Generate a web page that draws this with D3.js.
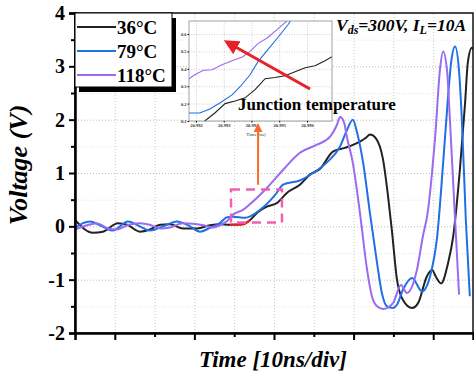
<!DOCTYPE html>
<html>
<head>
<meta charset="utf-8">
<script src="https://cdn.jsdelivr.net/npm/d3@7"></script>
<style>
body { margin: 0; background: #fff; }
text { font-family: "Liberation Serif", "Times New Roman", serif; }
</style>
</head>
<body>
<div id="chart"></div>
<script>
/* global d3 */

// time in ns (10 ns per division), voltage in V
const names = ['36°C', '79°C', '118°C']
const colors = ['#222222', '#1f6fe6', '#9a6af0']

const t36 = [0, 4.5, 7, 10.8, 13.1, 16.3, 18.8, 21.4, 23.9, 27.1, 30.7, 33.9, 36.4, 38.9, 42.2, 44, 46, 48.2, 50.8, 53.3, 56.5, 59, 61.6, 64.8, 67.8, 71.6, 73.1, 74.1, 75.6, 77.4, 78.6, 79.6, 80.9, 82.4, 84.7, 86.2, 88.4, 89.7, 90.7, 92, 93.7, 95, 96.7, 98, 98.7, 99.7, 100.7]
const v36 = [0.12, -0.12, -0.1, 0.06, 0.03, -0.1, -0.06, 0.03, 0.04, -0.04, -0.04, 0.02, 0.04, 0.03, 0.04, 0.12, 0.27, 0.37, 0.44, 0.63, 0.78, 0.97, 1.08, 1.4, 1.47, 1.59, 1.66, 1.72, 1.65, 1.25, 0.6, -0.06, -1.0, -1.38, -1.53, -1.44, -0.94, -0.82, -0.95, -1.07, -0.7, -0.2, 1.06, 2.3, 3.07, 3.35, 3.2]

const t79 = [0, 2, 3.8, 6.8, 9.5, 13.3, 16.3, 18.8, 23.1, 25.6, 28.9, 31.4, 33.9, 36.4, 38.2, 39.7, 42.7, 46.5, 50.3, 52.3, 56.5, 59.8, 63.3, 66.6, 68.3, 69.8, 70.9, 72.4, 74.1, 75.9, 77.1, 78.4, 79.9, 80.9, 82.4, 84.7, 87.2, 89.2, 91, 92.5, 93.7, 94.5, 95.5, 96.5, 97.2, 98.2, 99.2]
const v79 = [-0.03, 0.06, 0.09, 0, -0.08, 0.09, 0, -0.08, 0.03, 0.09, 0, -0.1, -0.03, 0.06, 0.17, 0.18, 0.16, 0.31, 0.59, 0.78, 0.86, 1.0, 1.2, 1.5, 1.8, 2.0, 1.75, 1.19, 0.25, -0.69, -1.25, -1.5, -1.53, -1.47, -1.19, -0.97, -1.22, -0.94, -0.19, 1.19, 2.4, 3.07, 3.37, 2.9, 2.0, 0.12, -1.31]

const t118 = [0, 3, 5.5, 8, 10.6, 13.1, 16.3, 18.8, 21.4, 23.9, 27.1, 29.6, 32.2, 34.7, 36.4, 38.2, 39.7, 42.2, 44, 48.2, 52.3, 56.5, 60.8, 64.1, 65.8, 66.6, 67.6, 68.3, 69.8, 71.6, 73.4, 74.6, 75.9, 77.4, 79.9, 81.9, 83.4, 85.9, 87.4, 88.7, 89.7, 90.5, 91.7, 92.5, 93.5, 94.2, 95.5, 96.5]
const v118 = [-0.06, 0.02, 0.06, -0.03, -0.06, 0.02, 0.06, 0.03, -0.04, -0.02, 0.06, 0.05, 0.02, -0.02, 0.02, 0.1, 0.22, 0.31, 0.42, 0.72, 1.06, 1.38, 1.53, 1.68, 1.9, 2.05, 1.95, 1.68, 1.19, 0.25, -0.82, -1.31, -1.5, -1.55, -1.44, -1.1, -1.25, -0.82, -0.19, 0.3, 1.0, 1.68, 2.94, 3.28, 2.9, 2.0, 0.12, -1.28]

// inset (zoom of the rising edge), time in us
const it36 = [20.99207, 20.99232, 20.99268, 20.99305, 20.99341, 20.99377, 20.99413, 20.99449, 20.99485, 20.99521, 20.99557, 20.99593, 20.99629, 20.99665, 20.9969]
const iv36 = [0.06, 0.1, 0.146, 0.2, 0.215, 0.233, 0.28, 0.343, 0.35, 0.36, 0.383, 0.406, 0.418, 0.447, 0.47]
const it79 = [20.99175, 20.99214, 20.9925, 20.99286, 20.9933, 20.99359, 20.99395, 20.99423, 20.99459, 20.99495, 20.99532, 20.99546]
const iv79 = [0.146, 0.146, 0.169, 0.204, 0.25, 0.297, 0.366, 0.44, 0.51, 0.58, 0.655, 0.69]
const it118 = [20.99175, 20.99196, 20.99225, 20.99258, 20.99294, 20.9933, 20.99369, 20.99395, 20.99423, 20.99459, 20.99495, 20.99524, 20.99539]
const iv118 = [0.343, 0.366, 0.39, 0.395, 0.424, 0.447, 0.47, 0.5, 0.545, 0.58, 0.63, 0.67, 0.69]

const yTicks = [-2, -1, 0, 1, 2, 3, 4]
const yMinor = [-1.5, -0.5, 0.5, 1.5, 2.5, 3.5]
const xMajor = [10, 30, 50, 70, 90]
const xMinor = [20, 40, 60, 80]
const insetXTicks = [20.992, 20.993, 20.994, 20.995, 20.996]
const insetYTicks = [0.1, 0.2, 0.3, 0.4, 0.5, 0.6]

// canvas
const width = 474,
  height = 375,
  pLeft = 75, pRight = 473, pTop = 13, pBottom = 333

const x = d3.scaleLinear().domain([0, 100]).range([pLeft, pRight])
const y = d3.scaleLinear().domain([-2, 4]).range([pBottom, pTop])

const ix = d3.scaleLinear().domain([20.99175, 20.9969]).range([189, 332])
const iy = d3.scaleLinear().domain([0.1, 0.675]).range([121, 21])

let svg = d3.select('#chart')
  .append('svg')
  .attr('width', width)
  .attr('height', height)

svg.append('clipPath').attr('id', 'plot')
  .append('rect').attr('x', pLeft).attr('y', pTop)
  .attr('width', pRight - pLeft).attr('height', pBottom - pTop)

// grid
svg.append('g')
  .attr('transform', `translate(0,${pBottom})`)
  .call(d3.axisBottom(x).tickValues(xMajor.concat(xMinor)).tickSize(-(pBottom - pTop)).tickFormat(''))
  .call(g => g.select('.domain').remove())
  .selectAll('line').attr('stroke', '#c8c8c8').attr('stroke-dasharray', '1,2')

svg.append('g')
  .attr('transform', `translate(${pLeft},0)`)
  .call(d3.axisLeft(y).tickValues(yTicks).tickSize(-(pRight - pLeft)).tickFormat(''))
  .call(g => g.select('.domain').remove())
  .selectAll('line').attr('stroke', '#bcbcbc').attr('stroke-dasharray', '1,2')

svg.append('g')
  .attr('transform', `translate(${pLeft},0)`)
  .call(d3.axisLeft(y).tickValues(yMinor).tickSize(-(pRight - pLeft)).tickFormat(''))
  .call(g => g.select('.domain').remove())
  .selectAll('line').attr('stroke', '#e2e2e2').attr('stroke-dasharray', '1,2')

// curves
const line = d3.line().x(d => x(d[0])).y(d => y(d[1])).curve(d3.curveMonotoneX)
const series = [d3.zip(t36, v36), d3.zip(t79, v79), d3.zip(t118, v118)]

svg.append('g').attr('clip-path', 'url(#plot)')
  .selectAll('path')
  .data(series)
  .enter()
  .append('path')
  .attr('d', line)
  .attr('fill', 'none')
  .attr('stroke', (d, i) => colors[i])
  .attr('stroke-width', 2)
  .attr('stroke-linejoin', 'round')

// red piece at the start of the edge
svg.append('path')
  .attr('d', line(series[0].filter(d => d[0] >= 38.9 && d[0] <= 44)))
  .attr('fill', 'none').attr('stroke', '#e8202a').attr('stroke-width', 2.2)

// frame
svg.append('rect')
  .attr('x', pLeft).attr('y', pTop)
  .attr('width', pRight - pLeft).attr('height', pBottom - pTop)
  .attr('fill', 'none').attr('stroke', '#111').attr('stroke-width', 1.5)

// axes
let yAxis = svg.append('g')
  .attr('transform', `translate(${pLeft},0)`)
  .call(d3.axisLeft(y).tickValues(yTicks).tickSize(6).tickPadding(4).tickFormat(d => String(d)))
yAxis.select('.domain').attr('stroke-width', 2.5)
yAxis.selectAll('line').attr('stroke-width', 2)
yAxis.selectAll('text')
  .attr('font-size', 20).attr('font-weight', 'bold').attr('fill', '#000')

svg.append('g')
  .attr('transform', `translate(${pLeft},0)`)
  .call(d3.axisLeft(y).tickValues(yMinor).tickSize(4).tickFormat(''))
  .call(g => g.select('.domain').remove())
  .selectAll('line').attr('stroke-width', 2)

let xAxis = svg.append('g')
  .attr('transform', `translate(0,${pBottom})`)
  .call(d3.axisBottom(x).tickValues(xMajor).tickSize(7).tickFormat(''))
xAxis.select('.domain').attr('stroke-width', 2.5)
xAxis.selectAll('line').attr('stroke-width', 2)

svg.append('g')
  .attr('transform', `translate(0,${pBottom})`)
  .call(d3.axisBottom(x).tickValues(xMinor).tickSize(4).tickFormat(''))
  .call(g => g.select('.domain').remove())
  .selectAll('line').attr('stroke-width', 2)

// axis titles
svg.append('text')
  .attr('x', 273).attr('y', 367)
  .attr('text-anchor', 'middle')
  .attr('font-size', 23).attr('font-weight', 'bold').attr('font-style', 'italic')
  .text('Time [10ns/div]')

svg.append('text')
  .attr('transform', 'translate(27,165) rotate(-90)')
  .attr('text-anchor', 'middle')
  .attr('font-size', 26).attr('font-weight', 'bold').attr('font-style', 'italic')
  .text('Voltage (V)')

// legend
svg.append('rect').attr('x', 79).attr('y', 18).attr('width', 97).attr('height', 74).attr('fill', '#000')
svg.append('rect').attr('x', 75).attr('y', 13).attr('width', 97).attr('height', 74)
  .attr('fill', '#fff').attr('stroke', '#000').attr('stroke-width', 1)

let legend = svg.selectAll('.leg')
  .data(names)
  .enter()
  .append('g')
  .attr('class', 'leg')
  .attr('transform', (d, i) => `translate(0,${27 + i * 24})`)

legend.append('line')
  .attr('x1', 77).attr('x2', 116)
  .attr('stroke', (d, i) => colors[i]).attr('stroke-width', 2)
legend.append('text')
  .attr('x', 117).attr('y', 6.5)
  .attr('font-size', 19).attr('font-weight', 'bold')
  .text(d => d)

// test condition
let cond = svg.append('text')
  .attr('x', 336).attr('y', 31)
  .attr('font-size', 17.5).attr('font-weight', 'bold').attr('font-style', 'italic')
cond.append('tspan').text('V')
cond.append('tspan').attr('font-size', 12).attr('dy', 3).text('ds')
cond.append('tspan').attr('dy', -3).text('=300V, I')
cond.append('tspan').attr('font-size', 12).attr('dy', 3).text('L')
cond.append('tspan').attr('dy', -3).text('=10A')

// inset
let inset = svg.append('g')
inset.append('rect').attr('x', 189).attr('y', 21).attr('width', 143).attr('height', 100)
  .attr('fill', '#fff')

inset.append('g')
  .attr('transform', 'translate(0,121)')
  .call(d3.axisBottom(ix).tickValues(insetXTicks).tickSize(-100).tickFormat(''))
  .call(g => g.select('.domain').remove())
  .selectAll('line').attr('stroke', '#d0d0d0').attr('stroke-dasharray', '1,1.5')
inset.append('g')
  .attr('transform', 'translate(189,0)')
  .call(d3.axisLeft(iy).tickValues(insetYTicks).tickSize(-143).tickFormat(''))
  .call(g => g.select('.domain').remove())
  .selectAll('line').attr('stroke', '#d0d0d0').attr('stroke-dasharray', '1,1.5')

svg.append('clipPath').attr('id', 'inset')
  .append('rect').attr('x', 189).attr('y', 21).attr('width', 143).attr('height', 100)

const iline = d3.line().x(d => ix(d[0])).y(d => iy(d[1]))
inset.append('g').attr('clip-path', 'url(#inset)')
  .selectAll('path')
  .data([d3.zip(it36, iv36), d3.zip(it79, iv79), d3.zip(it118, iv118)])
  .enter()
  .append('path')
  .attr('d', iline)
  .attr('fill', 'none')
  .attr('stroke', (d, i) => colors[i])
  .attr('stroke-width', 1.1)

inset.append('rect').attr('x', 189).attr('y', 21).attr('width', 143).attr('height', 100)
  .attr('fill', 'none').attr('stroke', '#8a8a8a').attr('stroke-width', 0.8)

let ixAxis = inset.append('g')
  .attr('transform', 'translate(0,121)')
  .call(d3.axisBottom(ix).tickValues(insetXTicks).tickSize(1.5).tickPadding(1).tickFormat(d3.format('.3f')))
ixAxis.select('.domain').remove()
ixAxis.selectAll('text').attr('font-size', 4.5).attr('font-weight', 'bold').attr('fill', '#333')

let iyAxis = inset.append('g')
  .attr('transform', 'translate(189,0)')
  .call(d3.axisLeft(iy).tickValues(insetYTicks).tickSize(1.5).tickPadding(1).tickFormat(d3.format('.1f')))
iyAxis.select('.domain').remove()
iyAxis.selectAll('text').attr('font-size', 4.5).attr('font-weight', 'bold').attr('fill', '#333')

inset.append('text')
  .attr('x', 256).attr('y', 136)
  .attr('text-anchor', 'middle')
  .attr('font-size', 5).attr('fill', '#333')
  .text('Time (ns)')

// arrows
const defs = svg.append('defs')
defs.append('marker').attr('id', 'redhead')
  .attr('viewBox', '0 0 10 10').attr('refX', 2).attr('refY', 5)
  .attr('markerWidth', 5).attr('markerHeight', 5).attr('orient', 'auto')
  .attr('markerUnits', 'strokeWidth')
  .append('path').attr('d', 'M0,0L10,5L0,10Z').attr('fill', '#e8202a')
defs.append('marker').attr('id', 'orangehead')
  .attr('viewBox', '0 0 10 10').attr('refX', 2).attr('refY', 5)
  .attr('markerWidth', 4.5).attr('markerHeight', 4.5).attr('orient', 'auto')
  .attr('markerUnits', 'strokeWidth')
  .append('path').attr('d', 'M0,0L10,5L0,10Z').attr('fill', '#fa6a28')

svg.append('line')
  .attr('x1', ix(20.99611)).attr('y1', iy(0.284))
  .attr('x2', ix(20.99338)).attr('y2', iy(0.53))
  .attr('stroke', '#e8202a').attr('stroke-width', 3)
  .attr('marker-end', 'url(#redhead)')

svg.append('text')
  .attr('x', 238).attr('y', 110)
  .attr('font-size', 17).attr('font-weight', 'bold')
  .text('Junction temperature')

svg.append('line')
  .attr('x1', x(46)).attr('y1', y(0.78))
  .attr('x2', x(46)).attr('y2', y(1.8))
  .attr('stroke', '#fa6a28').attr('stroke-width', 2)
  .attr('marker-end', 'url(#orangehead)')

// zoom box
svg.append('rect')
  .attr('x', x(39.2)).attr('y', y(0.69))
  .attr('width', x(52) - x(39.2)).attr('height', y(0.07) - y(0.69))
  .attr('fill', 'none').attr('stroke', '#f060b0').attr('stroke-width', 2.5)
  .attr('stroke-dasharray', '9,6')
</script>
</body>
</html>
